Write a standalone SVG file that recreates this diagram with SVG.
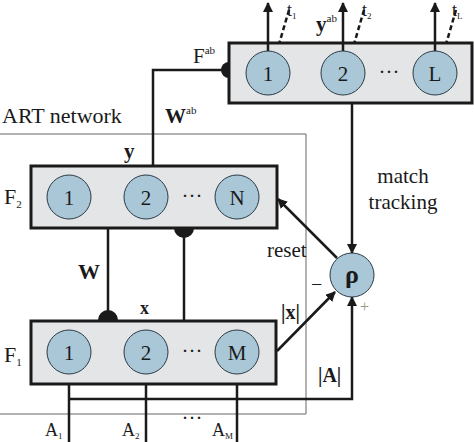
<svg xmlns="http://www.w3.org/2000/svg" width="474" height="442" viewBox="0 0 474 442">
<style>
text{font-family:"Liberation Serif","Times New Roman",serif;fill:#1a1a1a}
.box{fill:#e4e5e7;stroke:#1a1a1a;stroke-width:3}
.node{fill:#a9c7d7;stroke:#2a3a44;stroke-width:1}
.lbl{font-size:21px;text-anchor:middle}
.ln{stroke:#1a1a1a;stroke-width:2.5;fill:none}
.b{font-weight:bold}
</style>
<defs>
<marker id="ah" markerWidth="10" markerHeight="10" refX="9" refY="5" orient="auto" markerUnits="userSpaceOnUse" viewBox="0 0 10 10"><path d="M0,0 L10,5 L0,10 Z" fill="#1a1a1a"/></marker>
<marker id="ahs" markerWidth="8" markerHeight="8" refX="8" refY="4" orient="auto" markerUnits="userSpaceOnUse" viewBox="0 0 8 8"><path d="M0,0 L8,4 L0,8 Z" fill="#1a1a1a"/></marker>
</defs>
<rect width="474" height="442" fill="#ffffff"/>
<g id="art-network">
<path d="M-1,134 H306 V414 H-1" fill="none" stroke="#666" stroke-width="1"/>
<text x="2" y="123" style="font-size:22px">ART network</text>
</g>
<g id="connectors">
<path class="ln" d="M229,70 H153 V166"/>
<path d="M229,62 A8,8 0 0 0 229,78 Z" fill="#1a1a1a"/>
<line class="ln" x1="108" y1="228" x2="108" y2="320"/>
<path d="M98,320 A10,10 0 0 1 118,320 Z" fill="#1a1a1a"/>
<line class="ln" x1="184" y1="228" x2="184" y2="320"/>
<path d="M174,228 A10,10 0 0 0 194,228 Z" fill="#1a1a1a"/>
<line class="ln" x1="352" y1="104" x2="352" y2="253" marker-end="url(#ah)"/>
<line class="ln" x1="337" y1="258" x2="278" y2="199" marker-end="url(#ah)"/>
<line class="ln" x1="277" y1="351" x2="335" y2="292" marker-end="url(#ah)"/>
<path class="ln" d="M69,399 H352 V297" stroke-width="2" marker-end="url(#ah)"/>
<line class="ln" x1="69" y1="442" x2="69" y2="375" stroke-width="2" marker-end="url(#ahs)"/>
<line class="ln" x1="146" y1="442" x2="146" y2="375" stroke-width="2" marker-end="url(#ahs)"/>
<line class="ln" x1="237" y1="442" x2="237" y2="375" stroke-width="2" marker-end="url(#ahs)"/>
<line class="ln" x1="268" y1="51" x2="268" y2="3" marker-end="url(#ah)"/>
<line class="ln" x1="343" y1="51" x2="343" y2="3" marker-end="url(#ah)"/>
<line class="ln" x1="435" y1="51" x2="435" y2="3" marker-end="url(#ah)"/>
<line class="ln" x1="289" y1="10" x2="277" y2="51" stroke-width="2" stroke-dasharray="5,3" marker-end="url(#ahs)"/>
<line class="ln" x1="364" y1="10" x2="352" y2="51" stroke-width="2" stroke-dasharray="5,3" marker-end="url(#ahs)"/>
<line class="ln" x1="456" y1="10" x2="444" y2="51" stroke-width="2" stroke-dasharray="5,3" marker-end="url(#ahs)"/>
</g>
<g id="Fab">
<rect class="box" x="229" y="43" width="243" height="60"/>
<line x1="268" y1="43" x2="268" y2="51" stroke="#1a1a1a" stroke-width="2.5"/>
<line x1="343" y1="43" x2="343" y2="51" stroke="#1a1a1a" stroke-width="2.5"/>
<line x1="435" y1="43" x2="435" y2="51" stroke="#1a1a1a" stroke-width="2.5"/>
<circle class="node" cx="268" cy="73" r="22"/>
<circle class="node" cx="343" cy="73" r="22"/>
<circle class="node" cx="435" cy="73" r="22"/>
<text class="lbl" x="268" y="81">1</text>
<text class="lbl" x="343" y="81">2</text>
<text class="lbl" x="435" y="81">L</text>
<text class="lbl" x="389" y="79">···</text>
<text x="193" y="63" style="font-size:21px">F<tspan dy="-9" style="font-size:11px">ab</tspan></text>
<text x="316" y="31" class="b" style="font-size:21px">y<tspan dy="-9" style="font-size:11px;font-weight:normal">ab</tspan></text>
<text x="287" y="16" style="font-size:18px">t<tspan dy="3" style="font-size:9px">1</tspan></text>
<text x="362" y="16" style="font-size:18px">t<tspan dy="3" style="font-size:9px">2</tspan></text>
<text x="452" y="16" style="font-size:18px">t<tspan dy="3" style="font-size:9px">L</tspan></text>
</g>
<g id="F2">
<rect class="box" x="31" y="166" width="246" height="62"/>
<circle class="node" cx="69" cy="197" r="22"/>
<circle class="node" cx="146" cy="197" r="22"/>
<circle class="node" cx="237" cy="197" r="22"/>
<text class="lbl" x="69" y="205">1</text>
<text class="lbl" x="146" y="205">2</text>
<text class="lbl" x="237" y="205">N</text>
<text class="lbl" x="192" y="203">···</text>
<text x="4" y="204" style="font-size:22px">F<tspan dy="4" style="font-size:11px">2</tspan></text>
<text x="124" y="158" class="b" style="font-size:21px">y</text>
<text x="165" y="123" class="b" style="font-size:21px">W<tspan dy="-9" style="font-size:11px;font-weight:normal">ab</tspan></text>
</g>
<g id="F1">
<rect class="box" x="31" y="321" width="245" height="63"/>
<circle class="node" cx="69" cy="352" r="22"/>
<circle class="node" cx="146" cy="352" r="22"/>
<circle class="node" cx="237" cy="352" r="22"/>
<text class="lbl" x="69" y="360">1</text>
<text class="lbl" x="146" y="360">2</text>
<text class="lbl" x="237" y="360">M</text>
<text class="lbl" x="192" y="358">···</text>
<text x="4" y="362" style="font-size:22px">F<tspan dy="4" style="font-size:11px">1</tspan></text>
<text x="78" y="279" class="b" style="font-size:22px">W</text>
<text x="140" y="314" class="b" style="font-size:18px">x</text>
<text x="281" y="319" class="b" style="font-size:20px">|x|</text>
<text x="318" y="382" class="b" style="font-size:20px">|A|</text>
<text x="45" y="436" style="font-size:18px">A<tspan dy="3" style="font-size:9px">1</tspan></text>
<text x="122" y="436" style="font-size:18px">A<tspan dy="3" style="font-size:9px">2</tspan></text>
<text x="212" y="436" style="font-size:18px">A<tspan dy="3" style="font-size:9px">M</tspan></text>
<text class="lbl" x="192" y="425">···</text>
</g>
<g id="rho">
<circle class="node" cx="352" cy="275" r="22"/>
<text x="352" y="283" class="b" style="font-size:26px;text-anchor:middle">ρ</text>
<text x="311" y="291" style="font-size:20px">−</text>
<text x="360" y="312" style="font-size:16px;fill:#9a9a80">+</text>
<text x="267" y="257" style="font-size:21px">reset</text>
<text x="403" y="183" style="font-size:21px;text-anchor:middle">match</text>
<text x="403" y="209" style="font-size:21px;text-anchor:middle">tracking</text>
</g>
</svg>
